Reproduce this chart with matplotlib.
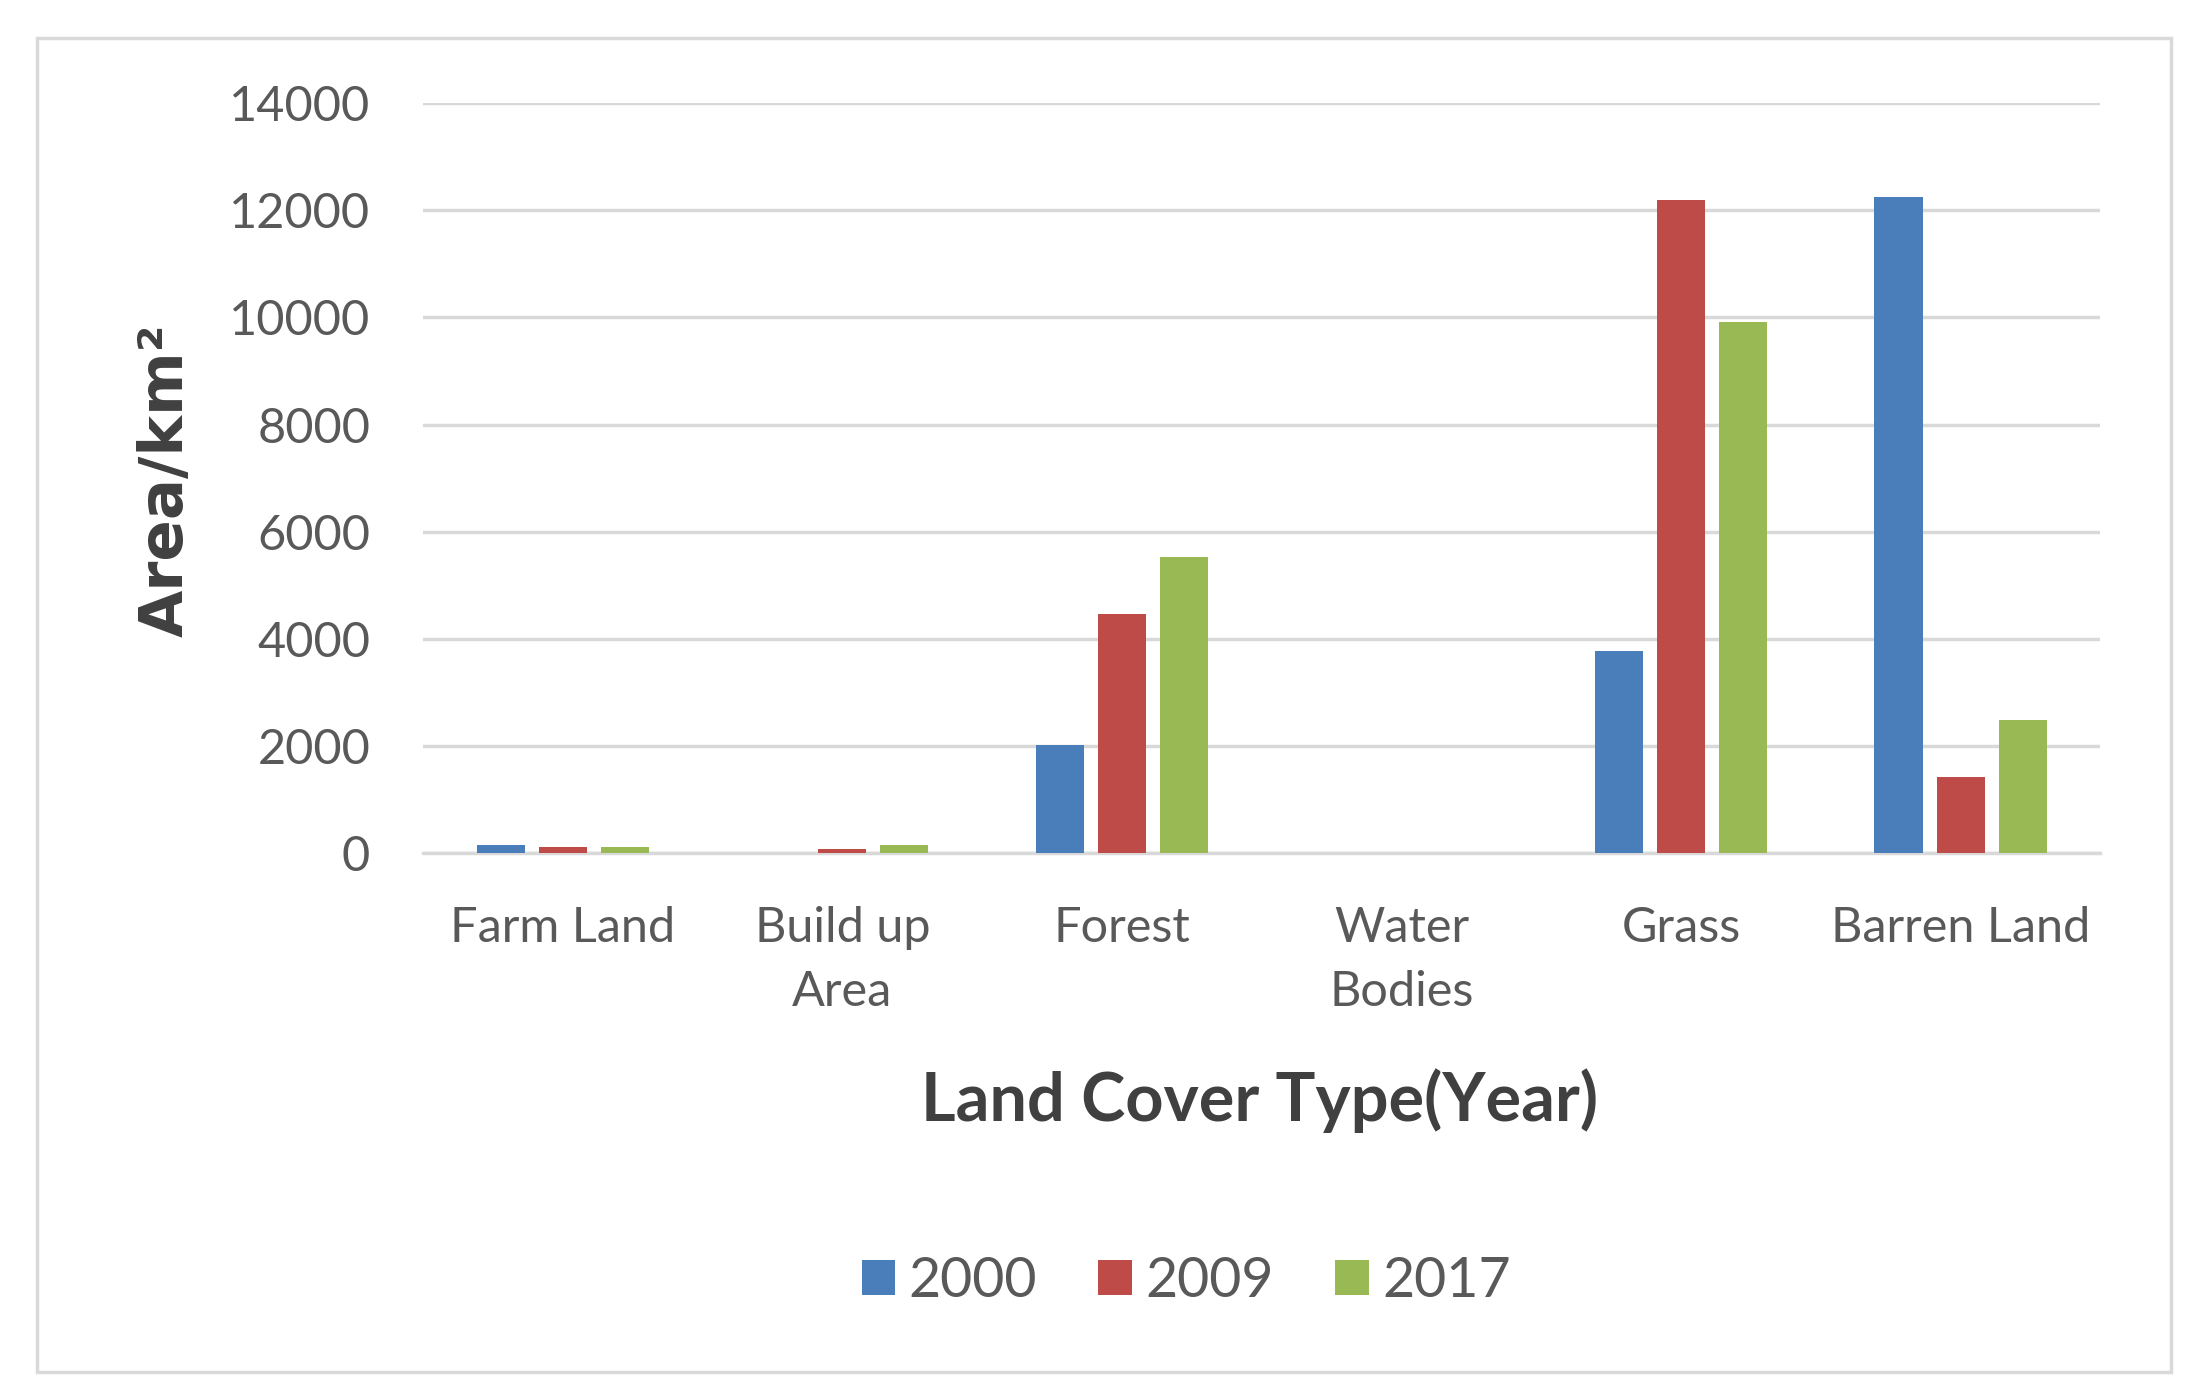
import numpy as np
import matplotlib
matplotlib.use('Agg')
import matplotlib.pyplot as plt
from matplotlib.patches import Rectangle

#### DATA
categories = ['Farm Land', 'Build up\nArea', 'Forest', 'Water\nBodies', 'Grass', 'Barren Land']
years = ['2000', '2009', '2017']
area_2000 = [160, 10, 2020, 0, 3780, 12240]
area_2009 = [120, 70, 4460, 0, 12190, 1420]
area_2017 = [110, 150, 5530, 0, 9910, 2490]
yticks = [0, 2000, 4000, 6000, 8000, 10000, 12000, 14000]
colors = ['#4a7ebb', '#be4b48', '#98b954']

plt.rcParams['font.family'] = ['Lato', 'DejaVu Sans']

fig = plt.figure(figsize=(21.97, 13.93), dpi=100)
ax = fig.add_axes([0.1925, 0.3875, 0.7635, 0.5385])

# light frame around the whole chart
fig.patches.append(Rectangle((0.017, 0.015), 0.971, 0.958, transform=fig.transFigure,
                             fill=False, edgecolor='#d9d9d9', linewidth=2.5))

x = np.arange(len(categories))
w = 0.172
step = 0.222
series = [area_2000, area_2009, area_2017]
for i, vals in enumerate(series):
    ax.bar(x + (i - 1) * step, vals, width=w, color=colors[i], label=years[i], zorder=3)

ax.set_xlim(-0.5, len(categories) - 0.5)
ax.set_ylim(0, 14000)
ax.set_yticks(yticks)
ax.set_yticklabels([str(t) for t in yticks])
ax.set_xticks(x)
ax.set_xticklabels(categories, linespacing=1.55)
ax.tick_params(axis='both', length=0, labelsize=35, colors='#595959')
ax.tick_params(axis='y', pad=38)
ax.tick_params(axis='x', pad=38)
for lab in ax.get_xticklabels():
    lab.set_verticalalignment('top')

ax.grid(axis='y', color='#d9d9d9', linewidth=2.5, zorder=0)
for s in ['top', 'right', 'left']:
    ax.spines[s].set_visible(False)
ax.spines['bottom'].set_color('#d9d9d9')
ax.spines['bottom'].set_linewidth(2.5)

fig.text(0.0757, 0.655, 'Area/km²', rotation=90, ha='center', va='center',
         fontsize=44, fontweight='bold', color='#404040', family='DejaVu Sans')
fig.text(0.5735, 0.21, 'Land Cover Type(Year)', ha='center', va='center',
         fontsize=48, fontweight='bold', color='#404040')

leg = fig.legend(loc='center', bbox_to_anchor=(0.54, 0.08), ncol=3, frameon=False,
                 fontsize=40, handlelength=0.6, handleheight=0.6, handletextpad=0.25,
                 columnspacing=1.1)
for t in leg.get_texts():
    t.set_color('#595959')

fig.savefig('out.png', dpi=100, facecolor='white')
